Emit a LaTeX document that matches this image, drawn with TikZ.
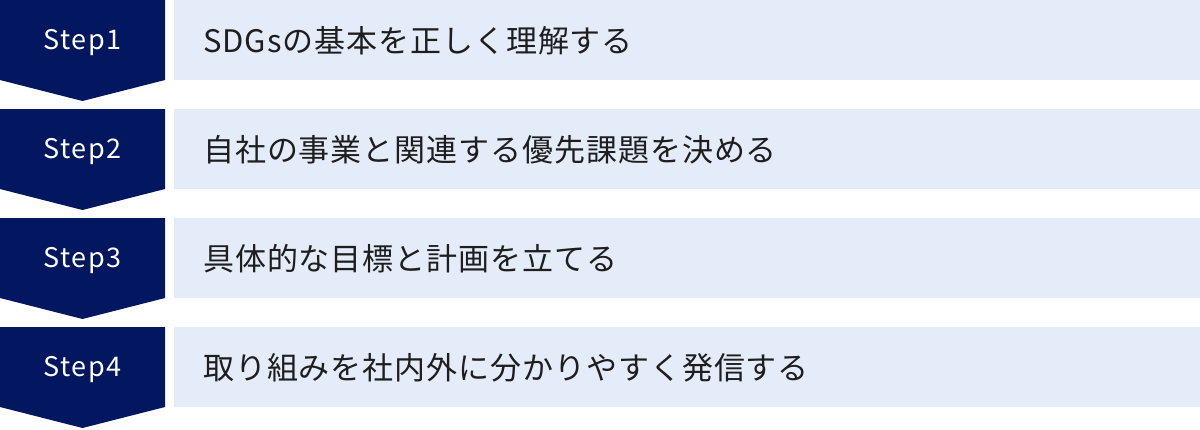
\documentclass[tikz,border=0pt]{standalone}
\usepackage{fontspec}
\setmainfont{Noto Sans CJK JP}
\newfontfamily\stepfont[LetterSpace=6]{Noto Sans CJK JP}
\newfontfamily\taskfont[LetterSpace=3]{Noto Sans CJK JP}
\definecolor{stepnavy}{RGB}{2,23,96}
\definecolor{taskblue}{RGB}{229,236,249}
\definecolor{taskink}{RGB}{30,30,30}
\tikzset{
  stepshape/.style={fill=stepnavy},
  taskshape/.style={fill=taskblue},
  steplabel/.style={text=white, font=\stepfont\fontsize{27}{32}\selectfont},
  tasklabel/.style={anchor=west, text=taskink, inner sep=0pt, font=\taskfont\fontsize{31}{37}\selectfont}
}
\begin{document}
\begin{tikzpicture}[x=1pt, y=-1pt]
	  \useasboundingbox (0,0) rectangle (1200,429);

	  % Step1
	  \fill [stepshape] (0,0)--(165,0)--(165,80)--(82.5,101)--(0,80)--cycle;
	  \fill [taskshape] (174,0) rectangle (1200,80);
	  \node [steplabel] (step1) at (82.5,43) {Step1};
	  \node [tasklabel] (task1) at (203,41) {SDGsの基本を正しく理解する};

	  % Step2
	  \fill [stepshape] (0,109)--(165,109)--(165,189)--(82.5,210)--(0,189)--cycle;
	  \fill [taskshape] (174,109) rectangle (1200,189);
	  \node [steplabel] (step2) at (82.5,152) {Step2};
	  \node [tasklabel] (task2) at (203,150) {自社の事業と関連する優先課題を決める};

	  % Step3
	  \fill [stepshape] (0,218)--(165,218)--(165,298)--(82.5,319)--(0,298)--cycle;
	  \fill [taskshape] (174,218) rectangle (1200,298);
	  \node [steplabel] (step3) at (82.5,261) {Step3};
	  \node [tasklabel] (task3) at (203,259) {具体的な目標と計画を立てる};

	  % Step4
	  \fill [stepshape] (0,327)--(165,327)--(165,407)--(82.5,428)--(0,407)--cycle;
	  \fill [taskshape] (174,327) rectangle (1200,407);
	  \node [steplabel] (step4) at (82.5,370) {Step4};
	  \node [tasklabel] (task4) at (203,368) {取り組みを社内外に分かりやすく発信する};

	\end{tikzpicture}
\end{document}
